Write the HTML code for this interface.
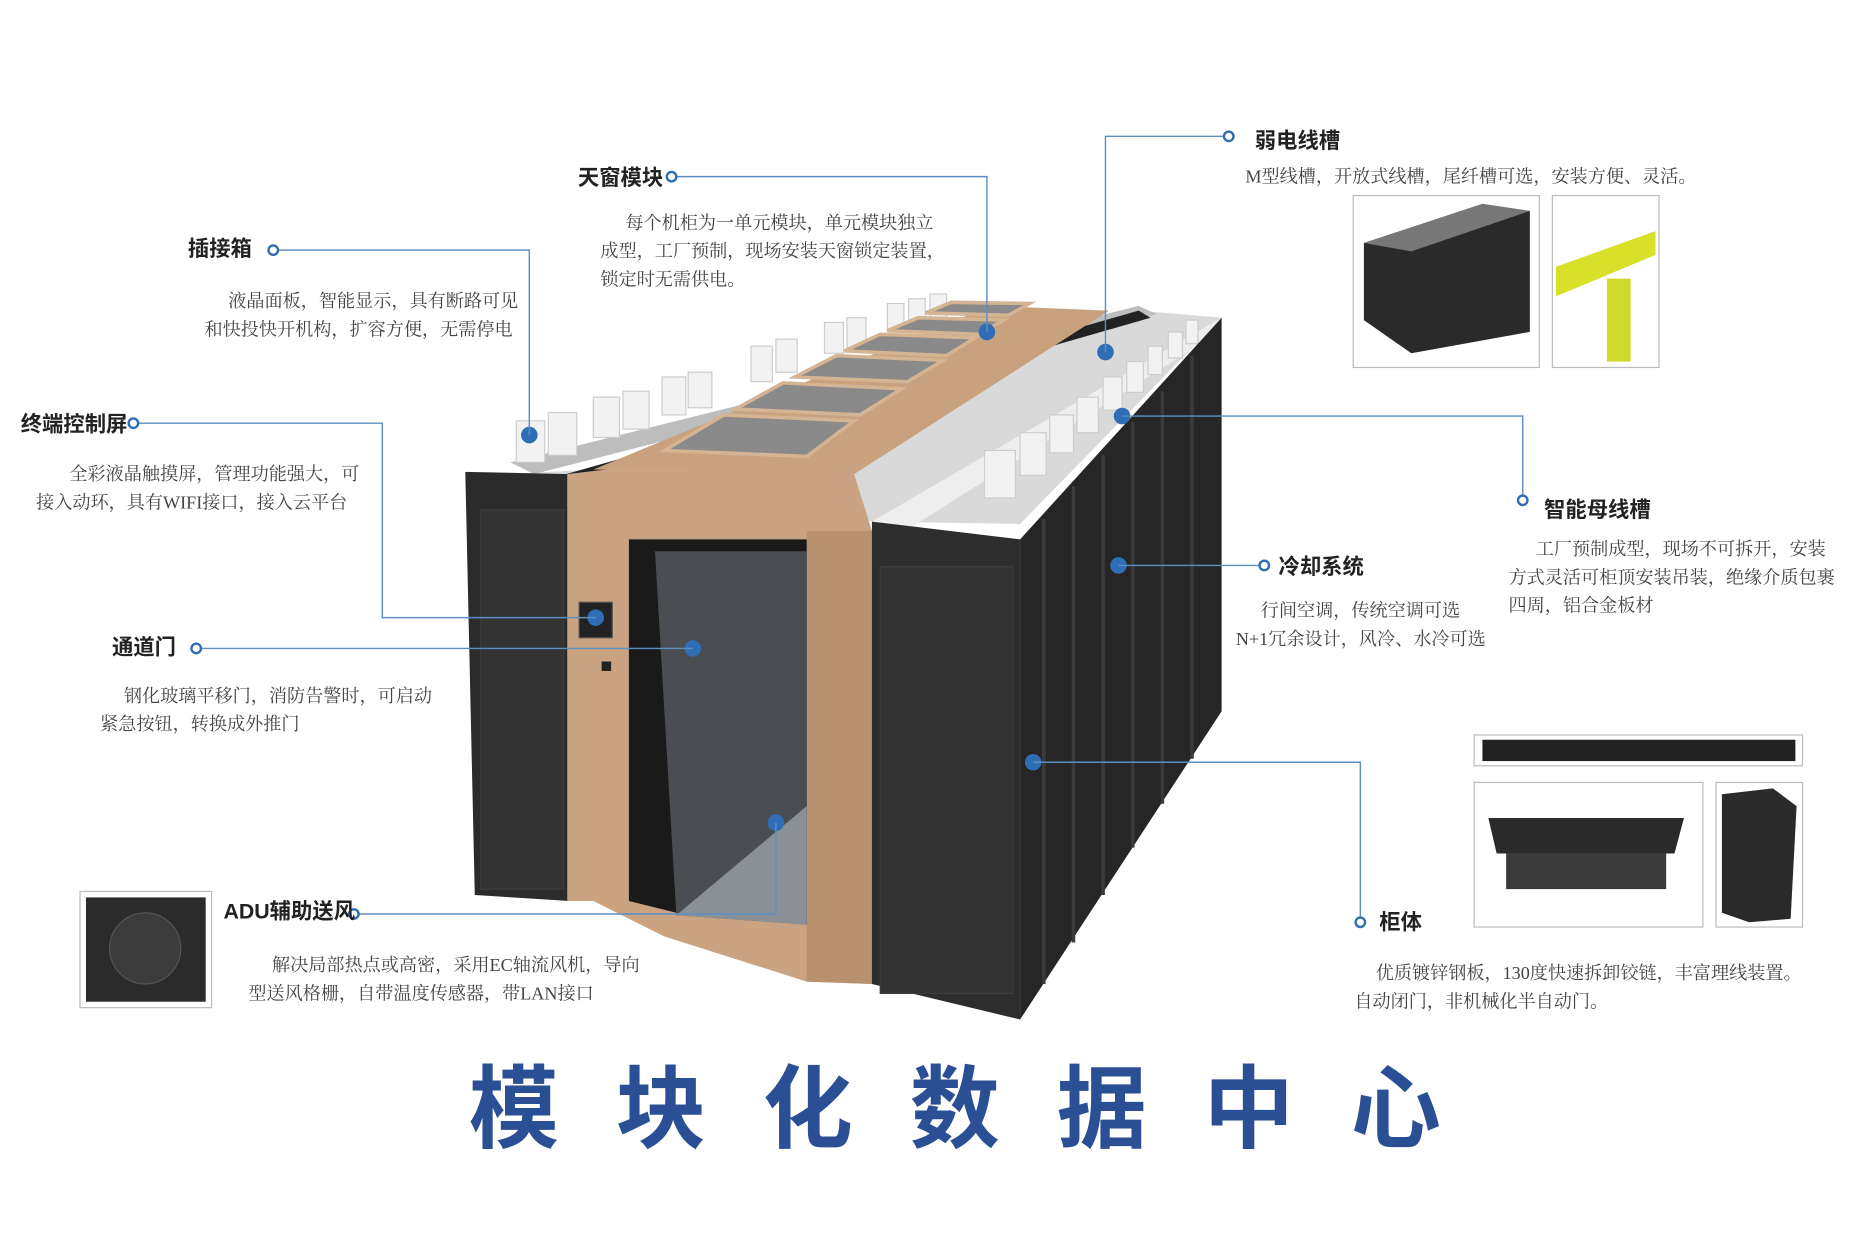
<!DOCTYPE html>
<html><head><meta charset="utf-8"><style>
html,body{margin:0;padding:0;background:#fff;}
svg{display:block}
text{font-family:"Liberation Serif","Noto Serif CJK SC",serif;fill:#333;}
.h{font-family:"Liberation Sans","Noto Sans CJK SC",sans-serif;font-weight:bold;fill:#222;font-size:18px}
.d{font-size:15.3px;fill:#444}
.ln{stroke:#5b8fc2;stroke-width:1.2;fill:none}
.dot{fill:#fff;stroke:#2f6db5;stroke-width:2}
.hex{fill:#2f6db5}
</style></head><body>
<svg width="1860" height="1240" viewBox="0 0 1568 1046" xmlns="http://www.w3.org/2000/svg">
<rect width="1568" height="1046" fill="#fff"/>
<!-- roof -->
<polygon points="425,400 500,396 960,262 1030,268 860,442 735,440" fill="#d9d9d9"/>
<polygon points="430,390 960,258 975,265 450,400" fill="#bdbdbd"/>
<polygon points="470,402 960,262 970,268 490,406" fill="#222"/>
<polygon points="735,440 1030,268 1028,280 760,450" fill="#eee"/>
<g fill="#f2f2f2" stroke="#ccc">
<rect x="435" y="355" width="24" height="35"/><rect x="462" y="348" width="24" height="36"/>
<rect x="500" y="335" width="22" height="34"/><rect x="525" y="330" width="22" height="32"/>
<rect x="558" y="318" width="20" height="32"/><rect x="580" y="314" width="20" height="30"/>
<rect x="633" y="292" width="18" height="30"/><rect x="654" y="286" width="18" height="28"/>
<rect x="695" y="272" width="16" height="26"/><rect x="714" y="268" width="16" height="26"/>
<rect x="748" y="256" width="14" height="22"/><rect x="766" y="252" width="14" height="22"/><rect x="784" y="248" width="14" height="22"/>
<rect x="830" y="380" width="26" height="40"/><rect x="860" y="365" width="22" height="36"/><rect x="885" y="350" width="20" height="32"/>
<rect x="908" y="335" width="18" height="30"/><rect x="930" y="318" width="16" height="28"/><rect x="950" y="305" width="14" height="26"/>
<rect x="968" y="292" width="12" height="24"/><rect x="985" y="280" width="12" height="22"/><rect x="1000" y="270" width="10" height="20"/>
</g>
<polygon points="500,396 720,400 935,262 835,258" fill="#c8a27e"/>
<g fill="#8a8a8a" stroke="#d4b493" stroke-width="3">
<polygon points="560,380 680,385 720,355 610,350"/>
<polygon points="620,345 725,350 760,328 660,323"/>
<polygon points="670,318 765,322 795,304 705,300"/>
<polygon points="712,296 798,300 822,285 742,282"/>
<polygon points="748,279 826,282 846,270 774,268"/>
<polygon points="780,264 850,266 868,256 802,255"/>
</g>
<polygon points="392,398 480,400 480,760 400,755" fill="#2b2b2b"/>
<rect x="405" y="430" width="70" height="320" fill="#333" stroke="#3d3d3d"/>
<polygon points="478,400 520,395 720,400 735,448 735,830 680,828 560,790 500,760 478,760" fill="#c9a382"/>
<polygon points="735,448 735,830 680,828 680,448" fill="#b8916f"/>
<polygon points="530,455 680,455 680,780 570,770 530,760" fill="#1a1a1a"/>
<polygon points="552,465 680,465 680,780 570,772" fill="#4a4e52"/>
<polygon points="570,772 680,680 680,780" fill="#8a9096"/>
<rect x="488" y="508" width="28" height="30" fill="#222" stroke="#555"/>
<rect x="507" y="558" width="8" height="8" fill="#222"/>
<polygon points="735,440 860,455 860,860 735,830" fill="#2d2d2d"/>
<rect x="742" y="478" width="112" height="360" fill="#333" stroke="#3d3d3d"/>
<polygon points="860,455 1030,268 1030,600 860,860" fill="#262626"/>
<g stroke="#3a3a3a" stroke-width="3">
<line x1="880" y1="438" x2="880" y2="830"/><line x1="905" y1="410" x2="905" y2="795"/>
<line x1="930" y1="384" x2="930" y2="755"/><line x1="955" y1="356" x2="955" y2="715"/>
<line x1="980" y1="330" x2="980" y2="678"/><line x1="1005" y1="300" x2="1005" y2="640"/>
</g>
<g class="hex">
<circle cx="446" cy="367" r="7"/><circle cx="832" cy="280" r="7"/><circle cx="932" cy="297" r="7"/>
<circle cx="946" cy="351" r="7"/><circle cx="943" cy="477" r="7"/><circle cx="502" cy="521" r="7"/>
<circle cx="584" cy="547" r="7"/><circle cx="654" cy="694" r="7"/><circle cx="871" cy="643" r="7"/>
</g>
<polyline class="ln" points="230,211 446,211 446,367"/>
<polyline class="ln" points="566,149 832,149 832,280"/>
<polyline class="ln" points="1036,115 932,115 932,297"/>
<polyline class="ln" points="946,351 1284,351 1284,422"/>
<polyline class="ln" points="943,477 1066,477"/>
<polyline class="ln" points="112,357 322,357 322,521 502,521"/>
<polyline class="ln" points="165,547 584,547"/>
<polyline class="ln" points="298,771 654,771 654,694"/>
<polyline class="ln" points="871,643 1147,643 1147,778"/>
<g class="dot">
<circle cx="230" cy="211" r="4"/><circle cx="566" cy="149" r="4"/><circle cx="1036" cy="115" r="4"/>
<circle cx="1284" cy="422" r="4"/><circle cx="1066" cy="477" r="4"/><circle cx="112" cy="357" r="4"/>
<circle cx="165" cy="547" r="4"/><circle cx="298" cy="771" r="4"/><circle cx="1147" cy="778" r="4"/>
</g>
<text class="h" x="158" y="216">插接箱</text>
<text class="d" x="192" y="259">液晶面板，智能显示，具有断路可见</text>
<text class="d" x="172" y="283">和快投快开机构，扩容方便，无需停电</text>
<text class="h" x="487" y="156">天窗模块</text>
<text class="d" x="527" y="193">每个机柜为一单元模块，单元模块独立</text>
<text class="d" x="506" y="217">成型，工厂预制，现场安装天窗锁定装置，</text>
<text class="d" x="506" y="241">锁定时无需供电。</text>
<text class="h" x="1058" y="125">弱电线槽</text>
<text class="d" x="1050" y="154">M型线槽，开放式线槽，尾纤槽可选，安装方便、灵活。</text>
<text class="h" x="17" y="364">终端控制屏</text>
<text class="d" x="58" y="405">全彩液晶触摸屏，管理功能强大，可</text>
<text class="d" x="30" y="429">接入动环，具有WIFI接口，接入云平台</text>
<text class="h" x="1302" y="436">智能母线槽</text>
<text class="d" x="1295" y="468">工厂预制成型，现场不可拆开，安装</text>
<text class="d" x="1272" y="492">方式灵活可柜顶安装吊装，绝缘介质包裹</text>
<text class="d" x="1272" y="516">四周，铝合金板材</text>
<text class="h" x="1078" y="484">冷却系统</text>
<text class="d" x="1063" y="520">行间空调，传统空调可选</text>
<text class="d" x="1042" y="544">N+1冗余设计，风冷、水冷可选</text>
<text class="h" x="94" y="552">通道门</text>
<text class="d" x="104" y="592">钢化玻璃平移门，消防告警时，可启动</text>
<text class="d" x="84" y="616">紧急按钮，转换成外推门</text>
<text class="h" x="188" y="775">ADU辅助送风</text>
<text class="d" x="229" y="819">解决局部热点或高密，采用EC轴流风机，导向</text>
<text class="d" x="209" y="843">型送风格栅，自带温度传感器，带LAN接口</text>
<text class="h" x="1163" y="784">柜体</text>
<text class="d" x="1160" y="826">优质镀锌钢板，130度快速拆卸铰链，丰富理线装置。</text>
<text class="d" x="1142" y="850">自动闭门，非机械化半自动门。</text>
<rect x="1141" y="165" width="157" height="145" fill="#fff" stroke="#bbb"/>
<polygon points="1150,205 1250,172 1290,178 1290,280 1190,298 1150,270" fill="#2a2a2a"/>
<polygon points="1150,205 1250,172 1290,178 1190,212" fill="#777"/>
<rect x="1309" y="165" width="90" height="145" fill="#fff" stroke="#bbb"/>
<polygon points="1312,225 1396,195 1396,215 1312,250" fill="#d8e02a"/>
<rect x="1355" y="235" width="20" height="70" fill="#d0d92a"/>
<rect x="1243" y="620" width="277" height="26" fill="#fff" stroke="#bbb"/>
<rect x="1250" y="624" width="264" height="18" fill="#222"/>
<rect x="1243" y="660" width="193" height="122" fill="#fff" stroke="#bbb"/>
<polygon points="1255,690 1420,690 1412,720 1262,720" fill="#2a2a2a"/>
<rect x="1270" y="720" width="135" height="30" fill="#3a3a3a"/>
<rect x="1447" y="660" width="73" height="122" fill="#fff" stroke="#bbb"/>
<polygon points="1452,670 1495,665 1515,680 1510,775 1475,778 1452,770" fill="#2a2a2a"/>
<rect x="67" y="752" width="111" height="98" fill="#fff" stroke="#bbb"/>
<rect x="72" y="757" width="101" height="88" fill="#2b2b2b"/>
<circle cx="122" cy="800" r="30" fill="#3c3c3c" stroke="#555"/>
<text x="395" y="962" style="font-family:'Liberation Sans','Noto Sans CJK SC',sans-serif;font-size:76px;font-weight:bold;fill:#2a4f94;letter-spacing:48px">模块化数据中心</text>
</svg>
</body></html>
